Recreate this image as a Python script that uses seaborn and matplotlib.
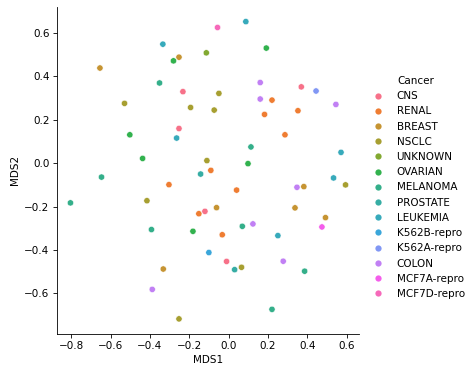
import matplotlib
matplotlib.use("Agg")
import matplotlib.pyplot as plt
import seaborn as sns
import pandas as pd

# legend order (order of first appearance in the NCI60 labels)
cancer_order = ["CNS", "RENAL", "BREAST", "NSCLC", "UNKNOWN", "OVARIAN", "MELANOMA",
                "PROSTATE", "LEUKEMIA", "K562B-repro", "K562A-repro", "COLON",
                "MCF7A-repro", "MCF7D-repro"]

# points
cancer = (["CNS"] * 5 + ["RENAL"] * 9 + ["BREAST"] * 7 + ["NSCLC"] * 9 + ["UNKNOWN"]
          + ["OVARIAN"] * 6 + ["MELANOMA"] * 8 + ["PROSTATE"] * 2 + ["LEUKEMIA"] * 6
          + ["K562B-repro", "K562A-repro"] + ["COLON"] * 7 + ["MCF7A-repro", "MCF7D-repro"])

mds1 = [-0.232, -0.252, 0.370, -0.120, -0.010,                                   # CNS
        0.221, 0.183, 0.353, 0.287, -0.090, -0.303, 0.041, -0.151, -0.032,       # RENAL
        -0.654, -0.252, 0.383, 0.338, 0.493, -0.332, -0.061,                     # BREAST
        -0.529, -0.049, -0.193, -0.073, -0.110, -0.415, 0.595, 0.066, -0.252,    # NSCLC
        -0.113,                                                                  # UNKNOWN
        -0.280, 0.192, -0.437, -0.502, 0.099, -0.181,                            # OVARIAN
        -0.351, -0.646, -0.804, 0.114, -0.392, 0.070, 0.387, 0.221,              # MELANOMA
        -0.142, 0.031,                                                           # PROSTATE
        0.088, -0.334, -0.264, 0.572, 0.534, 0.251,                              # LEUKEMIA
        -0.100, 0.445,                                                           # K562B, K562A
        0.161, 0.161, 0.546, 0.348, 0.124, 0.278, -0.388,                        # COLON
        0.475, -0.056]                                                           # MCF7A, MCF7D

mds2 = [0.330, 0.160, 0.352, -0.222, -0.453,
        0.291, 0.225, 0.242, 0.131, -0.033, -0.099, -0.124, -0.233, -0.330,
        0.439, 0.489, -0.108, -0.206, -0.251, -0.488, -0.205,
        0.276, 0.322, 0.257, 0.245, 0.012, -0.173, -0.100, -0.480, -0.718,
        0.509,
        0.472, 0.531, 0.022, 0.131, -0.002, -0.314,
        0.370, -0.064, -0.183, 0.075, -0.306, -0.291, -0.498, -0.674,
        -0.050, -0.491,
        0.653, 0.549, 0.116, 0.050, -0.068, -0.334,
        -0.412, 0.333,
        0.372, 0.296, 0.271, -0.111, -0.280, -0.452, -0.582,
        -0.294, 0.626]

df = pd.DataFrame({"MDS1": mds1, "MDS2": mds2, "Cancer": cancer})

g = sns.relplot(data=df, x="MDS1", y="MDS2", hue="Cancer", hue_order=cancer_order,
                height=5, aspect=1)

g.figure.set_size_inches(6.32, 5)
g.figure.subplots_adjust(left=0.1196, right=0.758, bottom=0.110, top=0.982)

plt.savefig("out.png", dpi=75)
